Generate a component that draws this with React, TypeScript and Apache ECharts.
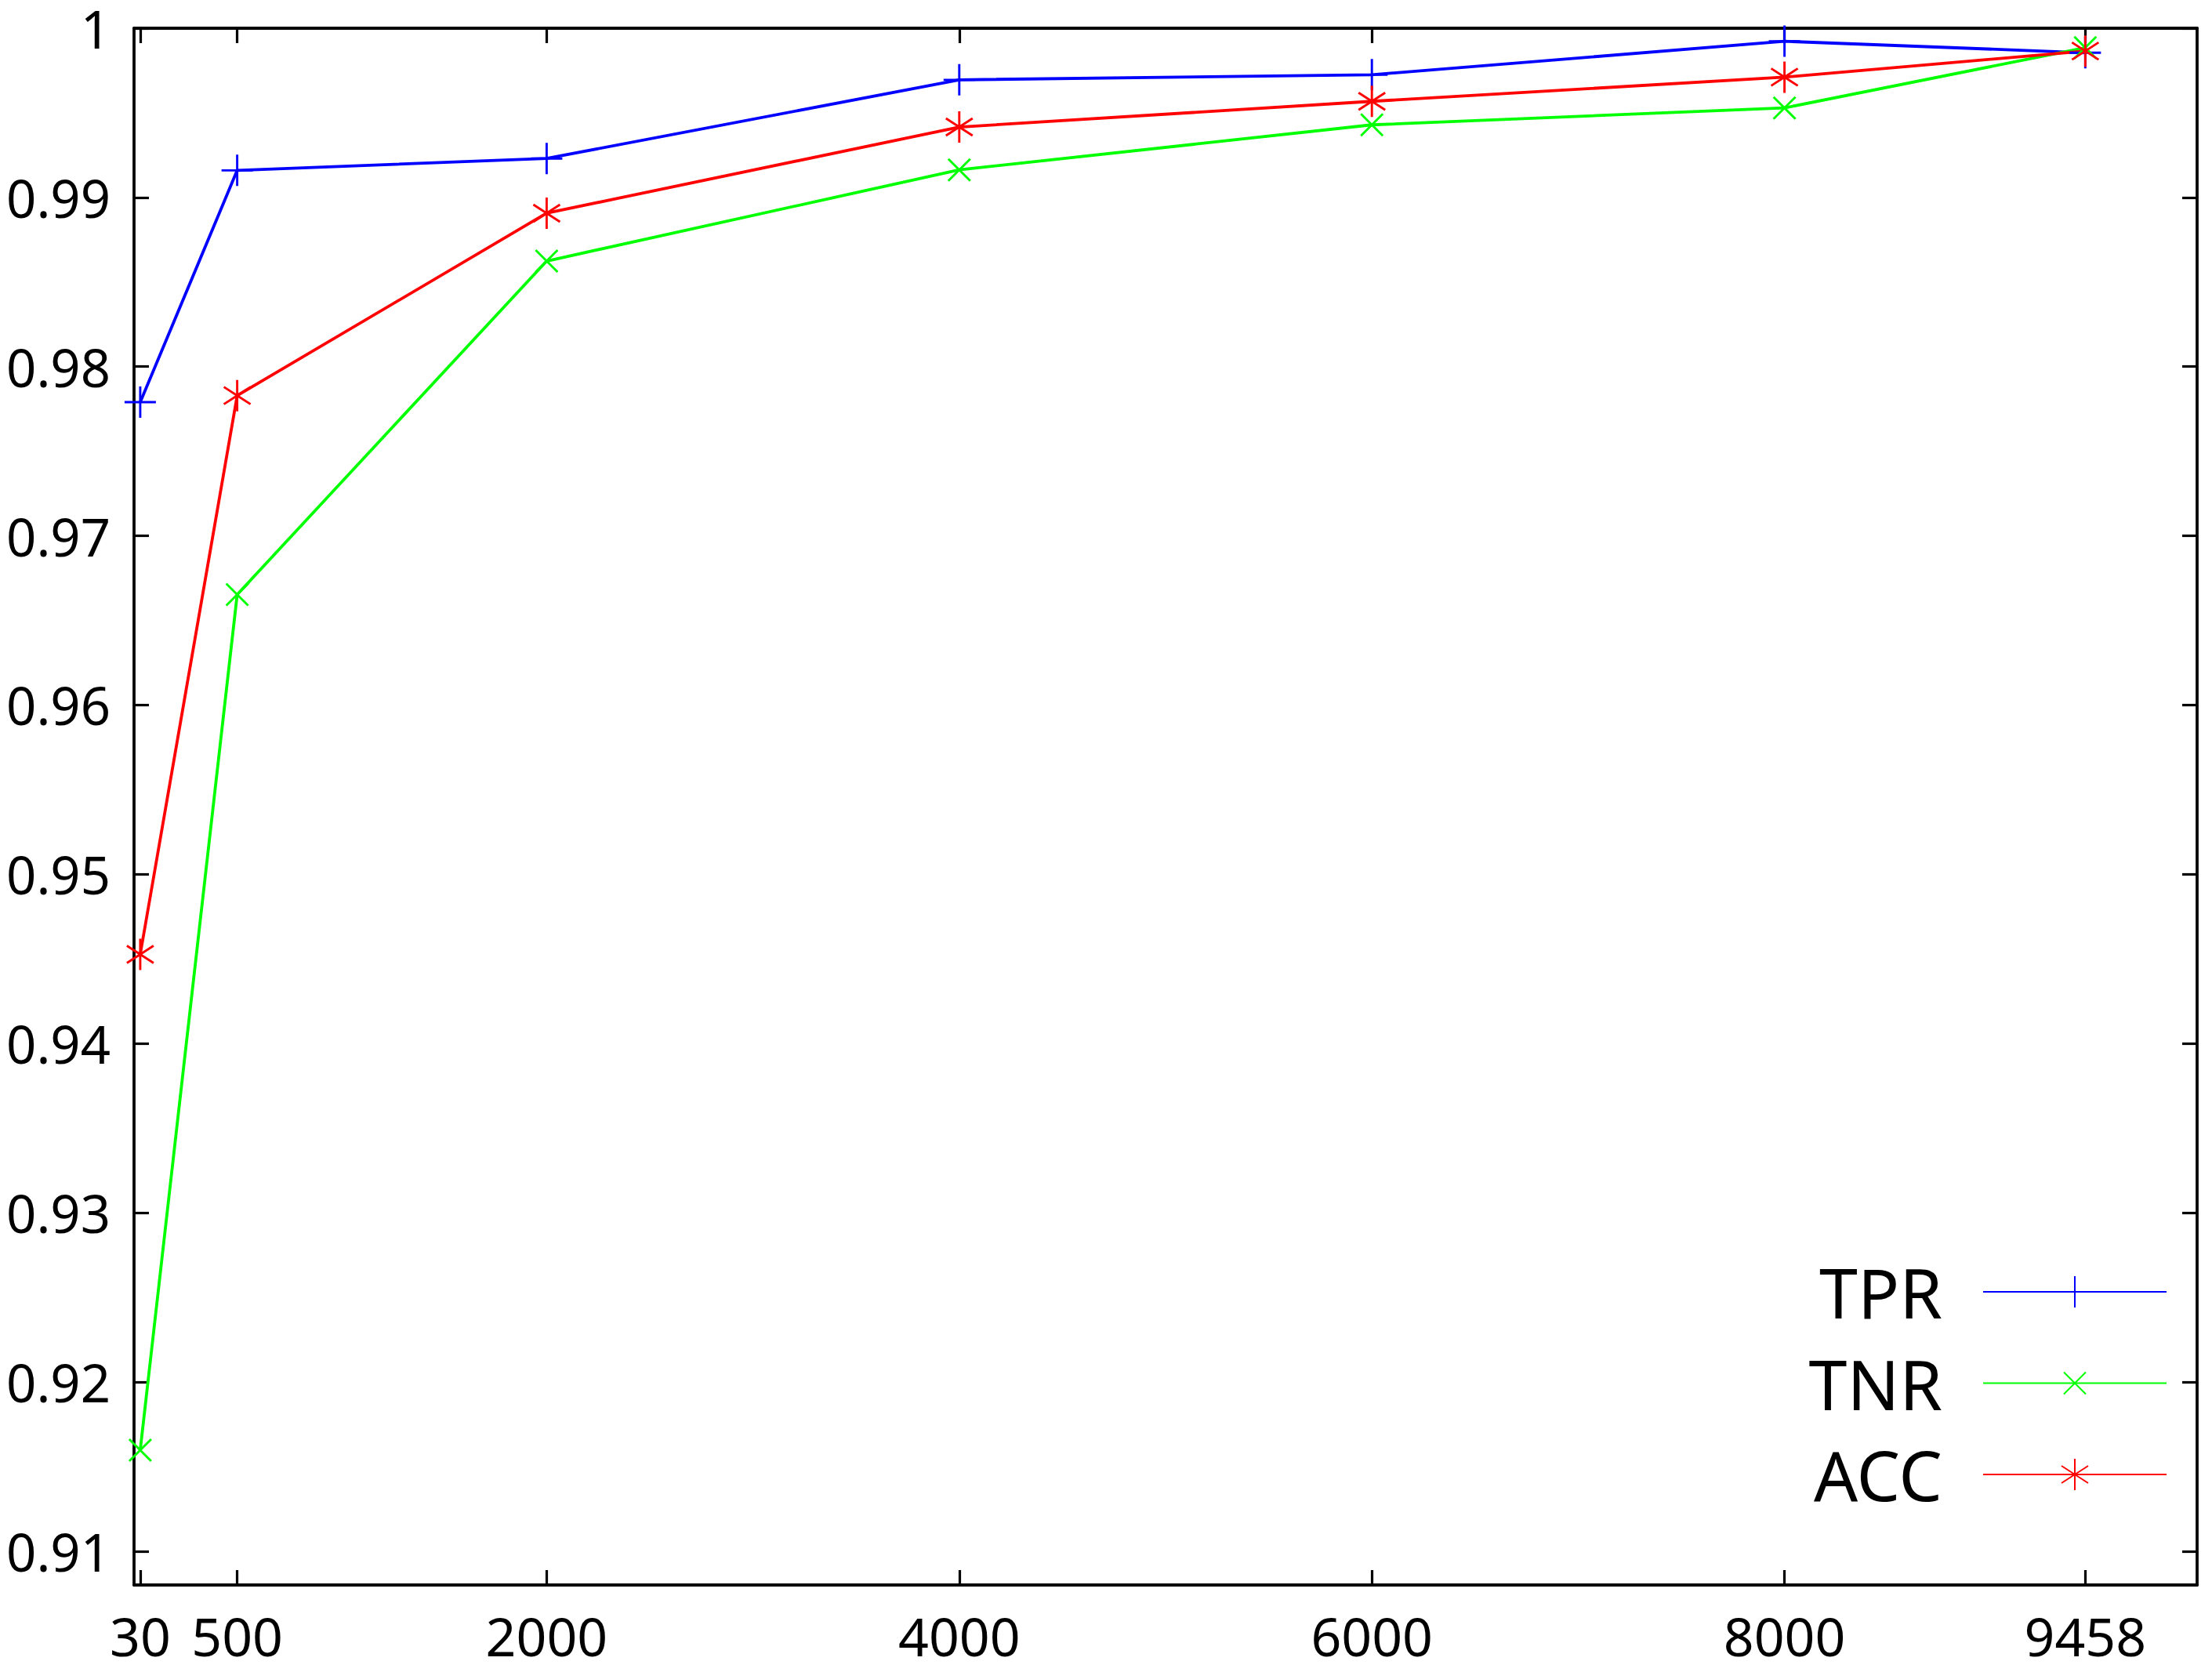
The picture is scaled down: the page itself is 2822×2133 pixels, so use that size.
import React, { useEffect, useRef } from "react";
import * as echarts from "echarts";

const xValues = [30, 500, 2000, 4000, 6000, 8000, 9458];
const xTickLabels = ["30", "500", "2000", "4000", "6000", "8000", "9458"];
const yTicks = [0.91, 0.92, 0.93, 0.94, 0.95, 0.96, 0.97, 0.98, 0.99, 1.0];
const tprValues = [0.9779, 0.9916, 0.9923, 0.99695, 0.99725, 0.99923, 0.99855];
const tnrValues = [0.91597, 0.96653, 0.98624, 0.99163, 0.99429, 0.99529, 0.99885];
const accValues = [0.94527, 0.97829, 0.98907, 0.99416, 0.99568, 0.99711, 0.99865];
const seriesNames = ["TPR", "TNR", "ACC"];

const W = 2822;
const H = 2133;
const FONT = "'Noto Sans', 'Open Sans', sans-serif";

const PLUS = "path://M20,0 L20,40 M0,20 L40,20";
const CROSS = "path://M0,0 M40,40 M6,6 L34,34 M34,6 L6,34";
const STAR = "path://M0,0 M40,40 M20,0 L20,40 M3,9 L37,31 M37,9 L3,31";

export default function App() {
  const ref = useRef<HTMLDivElement>(null);
  useEffect(() => {
    document.body.style.margin = "0";
    const chart = echarts.init(ref.current!, null, { renderer: "svg" });
    const pair = (vals: number[]) => xValues.map((x, i) => [x, vals[i]]);
    const mk = (name: string, vals: number[], color: string, symbol: string) => ({
      name,
      type: "line",
      data: pair(vals),
      symbol,
      symbolSize: 40,
      symbolKeepAspect: true,
      showSymbol: true,
      clip: false,
      lineStyle: { color, width: 3.8 },
      itemStyle: { color, borderColor: color, borderWidth: 2.9 },
      emphasis: { disabled: true },
      z: 3,
    });
    const axisLine = { show: true, onZero: false, lineStyle: { color: "#000", width: 3.8 } };
    const tick = (vals: number[]) => ({
      show: true,
      inside: true,
      length: 19,
      customValues: vals,
      lineStyle: { color: "#000", width: 3.2 },
    });
    chart.setOption({
      animation: false,
      backgroundColor: "#fff",
      grid: { left: 171, right: 19, top: 36, bottom: 111, containLabel: false },
      legend: {
        orient: "vertical",
        right: 52,
        top: 1599,
        align: "right",
        itemWidth: 234,
        itemHeight: 50,
        itemGap: 28.5,
        data: seriesNames,
        textStyle: {
          fontSize: 88,
          fontFamily: FONT,
          color: "#000",
          lineHeight: 88,
          padding: [0, 47, 0, 0],
        },
      },
      xAxis: [
        {
          type: "value",
          min: 0,
          max: 10000,
          position: "bottom",
          axisLine,
          axisTick: tick(xValues),
          splitLine: { show: false },
          axisLabel: {
            customValues: xValues,
            formatter: (v: number) => xTickLabels[xValues.indexOf(v)] ?? String(v),
            fontSize: 68,
            fontFamily: FONT,
            color: "#000",
            lineHeight: 68,
            margin: 30,
          },
        },
        {
          type: "value",
          min: 0,
          max: 10000,
          position: "top",
          axisLine,
          axisTick: tick(xValues),
          splitLine: { show: false },
          axisLabel: { show: false },
        },
      ],
      yAxis: [
        {
          type: "value",
          min: 0.908,
          max: 1.0,
          position: "left",
          axisLine,
          axisTick: tick(yTicks),
          splitLine: { show: false },
          axisLabel: {
            customValues: yTicks,
            formatter: (v: number) => String(+v.toFixed(2)),
            fontSize: 67,
            fontFamily: FONT,
            color: "#000",
            lineHeight: 56,
            margin: 30,
          },
        },
        {
          type: "value",
          min: 0.908,
          max: 1.0,
          position: "right",
          axisLine,
          axisTick: tick(yTicks),
          splitLine: { show: false },
          axisLabel: { show: false },
        },
      ],
      series: [
        mk("TPR", tprValues, "#0000ff", PLUS),
        mk("TNR", tnrValues, "#00ff00", CROSS),
        mk("ACC", accValues, "#ff0000", STAR),
      ],
    });
    return () => chart.dispose();
  }, []);
  return <div ref={ref} style={{ width: W, height: H }} />;
}
